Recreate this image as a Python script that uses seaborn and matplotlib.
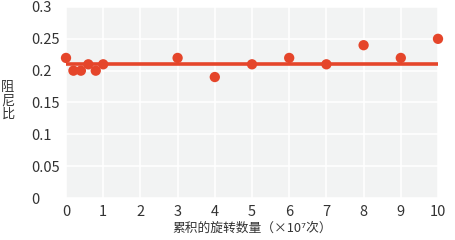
import matplotlib
matplotlib.use("Agg")
import matplotlib.pyplot as plt
import seaborn as sns
import pandas as pd
import numpy as np

rotations = [0, 0.2, 0.4, 0.6, 0.8, 1, 3, 4, 5, 6, 7, 8, 9, 10]
damping = [0.22, 0.20, 0.20, 0.21, 0.20, 0.21, 0.22, 0.19, 0.21, 0.22, 0.21, 0.24, 0.22, 0.25]
fit_x = [0, 10]
fit_y = [0.211, 0.211]
x_ticks = [0, 1, 2, 3, 4, 5, 6, 7, 8, 9, 10]
y_ticks = [0, 0.05, 0.1, 0.15, 0.2, 0.25, 0.3]
y_tick_labels = ["0", "0.05", "0.1", "0.15", "0.2", "0.25", "0.3"]
y_label_chars = ["阻", "尼", "比"]

sns.set_style("darkgrid", {"axes.facecolor": "#f2f3f3", "grid.color": "white"})
plt.rcParams['font.family'] = ['Noto Sans CJK SC', 'DejaVu Sans']

df = pd.DataFrame({"x": rotations, "y": damping})
fit = pd.DataFrame({"x": fit_x, "y": fit_y})

fig = plt.figure(figsize=(4.56, 2.4), dpi=100)
ax = fig.add_axes([66/456, 1 - 198/240, (438-66)/456, (198-7)/240])
color = "#e5452a"
sns.lineplot(data=fit, x="x", y="y", ax=ax, color=color, linewidth=2.6)
sns.scatterplot(data=df, x="x", y="y", ax=ax, color=color, s=55, edgecolor="none", zorder=3, clip_on=False)

ax.set_xlim(0, 10)
ax.set_ylim(0, 0.3)
ax.set_xticks(x_ticks)
ax.set_yticks(y_ticks)
ax.set_yticklabels(y_tick_labels)
ax.tick_params(axis="both", length=0, labelsize=10.5, colors="#333333")
ax.tick_params(axis="x", pad=5)
ax.tick_params(axis="y", pad=25)
for lbl in ax.get_yticklabels():
    lbl.set_horizontalalignment("left")
for s in ax.spines.values():
    s.set_visible(False)
ax.grid(True, color="white", linewidth=1.2)
ax.set_xlabel("累积的旋转数量（×10⁷次）", fontsize=9.2, color="#333333", labelpad=2)
ax.set_ylabel("")
for i, ch in enumerate(y_label_chars):
    fig.text(8/456, 1 - (88 + 13*i)/240, ch, fontsize=9.5, color="#333333", ha="center", va="center")

fig.savefig("out.png", dpi=100)
